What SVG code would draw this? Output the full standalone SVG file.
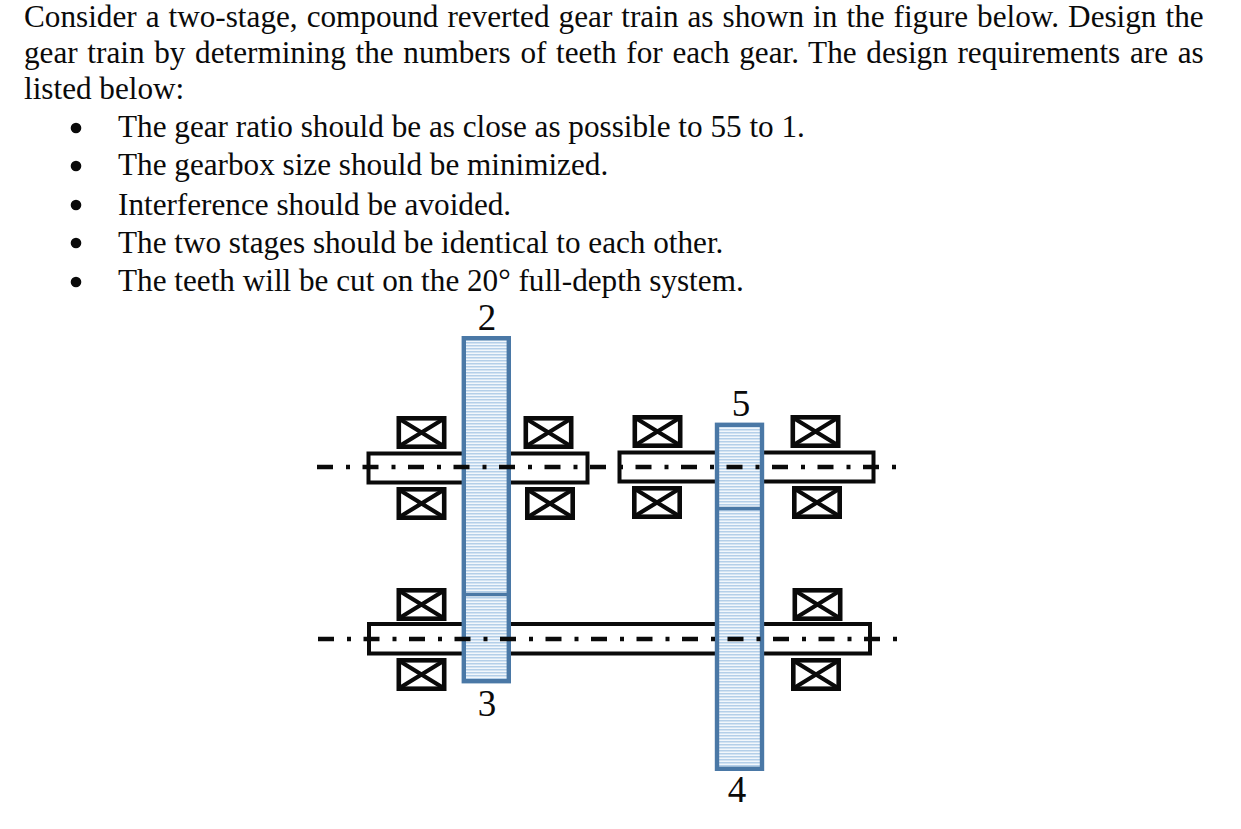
<svg xmlns="http://www.w3.org/2000/svg" width="1241" height="829" viewBox="0 0 1241 829">
<style>
text{font-family:"Liberation Serif","Times New Roman",serif;fill:#0a0a0a}
.p{font-size:31.2px}
.l{font-size:37px;text-anchor:middle}
.b{fill:none;stroke:#0a0a0a;stroke-width:4.6}
.x{fill:none;stroke:#0a0a0a;stroke-width:4.2}
.s{fill:#fff;stroke:#0a0a0a;stroke-width:4}
.g{fill:url(#h);stroke:#4a78a6;stroke-width:4.4}
.d{stroke:#4a78a6;stroke-width:3.6}
.c{stroke:#0a0a0a;stroke-width:4.4;fill:none;stroke-dasharray:16 13 4 12.5}
</style>
<defs>
<pattern id="h" width="4" height="3" patternUnits="userSpaceOnUse"><rect width="4" height="3" fill="#f2f7fc"/><rect width="4" height="1.5" fill="#b4cfe9"/></pattern>
<symbol id="bearing" viewBox="0 0 50 33" overflow="visible"><rect class="b" x="2.300" y="2.300" width="45.400" height="28.400"/><path class="x" d="M3 3 47 30M47 3 3 30"/></symbol>
</defs>
<g id="problem-text">
<text class="p" x="24" y="27" word-spacing="1.26">Consider a two-stage, compound reverted gear train as shown in the figure below. Design the</text>
<text class="p" x="24" y="63" word-spacing="1.9">gear train by determining the numbers of teeth for each gear. The design requirements are as</text>
<text class="p" x="24" y="98.500">listed below:</text>
</g>
<g id="bullets">
<circle cx="76" cy="128" r="5.300" fill="#0a0a0a"/><text class="p" x="118" y="137">The gear ratio should be as close as possible to 55 to 1.</text>
<circle cx="76" cy="166" r="5.300" fill="#0a0a0a"/><text class="p" x="118" y="174.500">The gearbox size should be minimized.</text>
<circle cx="76" cy="205" r="5.300" fill="#0a0a0a"/><text class="p" x="118" y="214.500">Interference should be avoided.</text>
<circle cx="76" cy="243" r="5.300" fill="#0a0a0a"/><text class="p" x="118" y="252.500">The two stages should be identical to each other.</text>
<circle cx="76" cy="282" r="5.300" fill="#0a0a0a"/><text class="p" x="118" y="290.500">The teeth will be cut on the 20° full-depth system.</text>
</g>
<g id="shafts">
<rect id="shaft-input" class="s" x="368.500" y="453.500" width="219" height="29"/>
<rect id="shaft-output" class="s" x="619.500" y="452.500" width="254" height="29"/>
<rect id="shaft-counter" class="s" x="369" y="624" width="501" height="29.500"/>
</g>
<g id="bearings">
<use href="#bearing" x="396.500" y="416" width="50" height="33"/>
<use href="#bearing" x="523.500" y="416" width="50" height="33"/>
<use href="#bearing" x="632.500" y="415" width="50" height="33"/>
<use href="#bearing" x="790.500" y="415" width="50" height="33"/>
<use href="#bearing" x="396.500" y="487" width="50" height="33"/>
<use href="#bearing" x="525" y="487" width="50" height="33"/>
<use href="#bearing" x="632" y="486" width="50" height="33"/>
<use href="#bearing" x="792" y="486" width="50" height="33"/>
<use href="#bearing" x="396.500" y="588" width="50" height="33"/>
<use href="#bearing" x="792.500" y="588" width="50" height="33"/>
<use href="#bearing" x="396.500" y="658" width="50" height="33"/>
<use href="#bearing" x="791" y="658" width="50" height="33"/>
</g>
<g id="gear-2-3">
<rect class="g" x="463.800" y="338.200" width="45" height="343"/>
<line class="d" x1="463.800" y1="594.500" x2="509" y2="594.500"/>
<text class="l" x="487" y="330">2</text>
<text class="l" x="487" y="716">3</text>
</g>
<g id="gear-5-4">
<rect class="g" x="717" y="424.800" width="45" height="344"/>
<line class="d" x1="717" y1="508.500" x2="762" y2="508.500"/>
<text class="l" x="741" y="416">5</text>
<text class="l" x="737" y="802">4</text>
</g>
<g id="connectors">
<line class="c" x1="317" y1="467" x2="898" y2="467"/>
<line class="c" x1="318" y1="639" x2="898" y2="639"/>
</g>
</svg>
